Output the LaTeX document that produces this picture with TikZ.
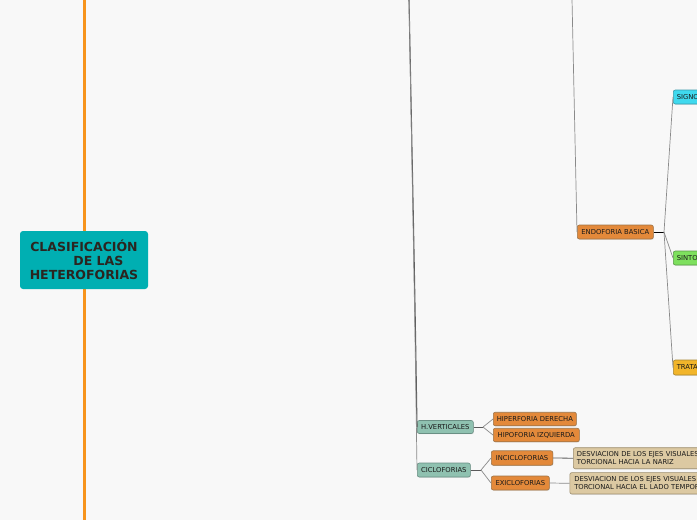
\documentclass[tikz,border=0pt]{standalone}
\usepackage{fontspec}
\setmainfont{DejaVu Sans}
\usetikzlibrary{shadows}
\definecolor{bg}{HTML}{F8F8F8}
\definecolor{orangeline}{HTML}{F7941D}
\definecolor{teal}{HTML}{00AFB2}
\definecolor{titletext}{HTML}{2B2520}
\definecolor{orfill}{HTML}{E3893A}
\definecolor{ordraw}{HTML}{9E7448}
\definecolor{hvfill}{HTML}{8FC1B0}
\definecolor{hvdraw}{HTML}{6A8F84}
\definecolor{tanfill}{HTML}{DCC9A2}
\definecolor{tandraw}{HTML}{9E8E6E}
\definecolor{cyanfill}{HTML}{3FD9EE}
\definecolor{cyandraw}{HTML}{3A9AAA}
\definecolor{greenfill}{HTML}{7EE05E}
\definecolor{greendraw}{HTML}{5A9A4A}
\definecolor{goldfill}{HTML}{F2B52A}
\definecolor{golddraw}{HTML}{A88530}
\definecolor{linkgray}{HTML}{8A8A8A}
\definecolor{darklink}{HTML}{5A5A5A}
\begin{document}
\begin{tikzpicture}[x=1pt,y=-1pt,
  box/.style={rounded corners=2pt, inner xsep=3.5pt, inner ysep=0pt,
    font=\fontsize{6.8}{8}\selectfont, text=black!90, line width=0.6pt,
    anchor=west, drop shadow={shadow xshift=0.5pt, shadow yshift=-0.7pt, opacity=0.25}},
  orbox/.style={box, fill=orfill, draw=ordraw},
  hvbox/.style={box, fill=hvfill, draw=hvdraw},
  tanbox/.style={box, fill=tanfill, draw=tandraw, text width=130pt, align=left},
  titlebox/.style={rounded corners=3pt, fill=teal, text=titletext,
    font=\fontsize{12.5}{14}\selectfont\bfseries, align=center,
    minimum width=128pt, minimum height=58pt, inner sep=0pt},
  link/.style={draw=linkgray, line width=0.7pt},
  darkl/.style={draw=darklink, line width=0.8pt},
  trunk/.style={draw=darklink, line width=1.1pt},
  oline/.style={draw=orangeline, line width=3pt}
]
\fill[bg] (0,0) rectangle (697,520);
\useasboundingbox (0,0) rectangle (697,520);

% orange vertical line of the root
\coordinate (otop) at (84,0);
\coordinate (obot) at (84,520);
\draw[oline] (otop) -- (obot);

\node[titlebox] (root) at (84,260) {CLASIFICACIÓN\\\hspace*{2.3em}DE LAS\\HETEROFORIAS};

% free ends at top
\coordinate (top1) at (409,-1);
\coordinate (top2) at (572,-1);

% nodes
\node[hvbox, minimum width=56pt, minimum height=13pt] (hv) at (417,427) {H.VERTICALES};
\node[hvbox, minimum width=53pt, minimum height=14pt] (ciclo) at (417,470) {CICLOFORIAS};
\node[orbox, minimum width=83pt, minimum height=13.5pt] (hiper) at (493,419) {HIPERFORIA DERECHA};
\node[orbox, minimum width=86pt, minimum height=13.5pt] (hipo) at (493,435) {HIPOFORIA IZQUIERDA};
\node[orbox, minimum width=61.5pt, minimum height=14.5pt] (inci) at (491,458) {INCICLOFORIAS};
\node[orbox, minimum width=58pt, minimum height=14pt] (exi) at (491,483) {EXICLOFORIAS};
\node[tanbox, minimum height=21pt] (desc1) at (573,458.2) {DESVIACION DE LOS EJES VISUALES\\TORCIONAL HACIA LA NARIZ};
\node[tanbox, minimum height=21.3pt, inner xsep=4.5pt] (desc2) at (569.5,483.3) {DESVIACION DE LOS EJES VISUALES\\TORCIONAL HACIA EL LADO TEMPORA};
\node[orbox, minimum width=76pt, minimum height=14pt] (endo) at (577,232) {ENDOFORIA BASICA};
\node[box, fill=cyanfill, draw=cyandraw, text width=40pt, align=left, minimum height=14pt] (signo) at (673,97) {SIGNO};
\node[box, fill=greenfill, draw=greendraw, text width=40pt, align=left, minimum height=14pt] (sinto) at (673,258) {SINTO};
\node[box, fill=goldfill, draw=golddraw, text width=40pt, align=left, minimum height=15pt] (trata) at (673,367.5) {TRATA};

% connectors
\draw[trunk] (top1) .. controls (415,300) .. (hv.west);
\draw[link] (top1) .. controls (415,330) .. (ciclo.west);
\draw[link] (top2) -- (endo.west);

\coordinate (j1) at (664,232);
\draw[draw=black, line width=0.8pt] (endo.east) -- (j1);
\draw[link] (j1) -- (signo.west);
\draw[link] (j1) -- (sinto.west);
\draw[link] (j1) -- (trata.west);

\coordinate (j2) at (483,427);
\draw[darkl] (hv.east) -- (j2);
\draw[link] (j2) -- (hiper.west);
\draw[link] (j2) -- (hipo.west);

\coordinate (j3) at (481,470);
\draw[darkl] (ciclo.east) -- (j3);
\draw[link] (j3) -- (inci.west);
\draw[link] (j3) -- (exi.west);

\draw[darkl] (inci.east) -- (desc1.west);
\draw[link] (exi.east) -- (desc2.west);
\end{tikzpicture}
\end{document}
